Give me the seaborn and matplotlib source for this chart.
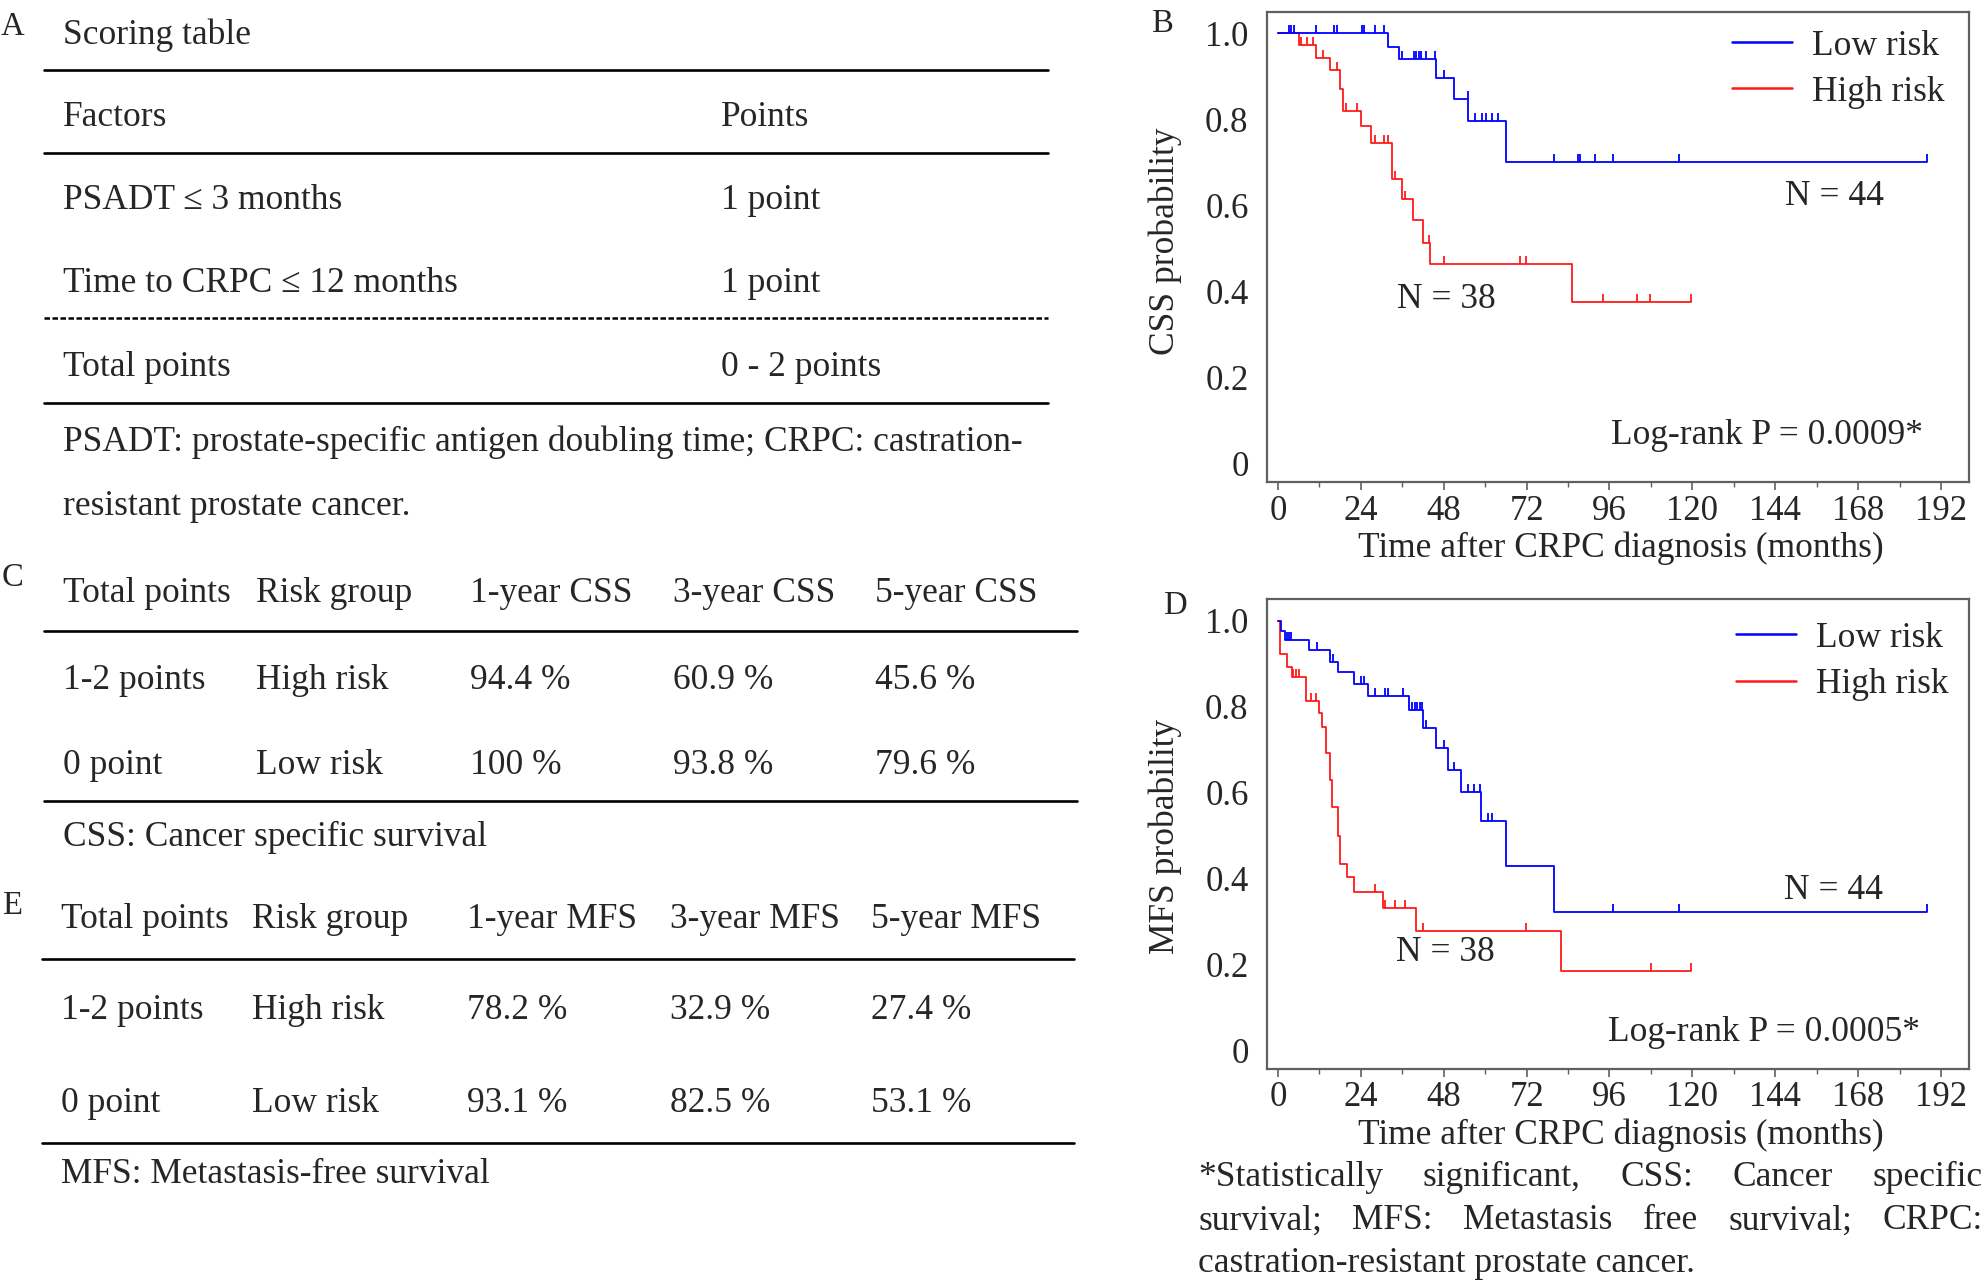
import numpy as np
import pandas as pd
import matplotlib
matplotlib.use("Agg")
import matplotlib.pyplot as plt
from matplotlib.path import Path
from matplotlib.lines import Line2D
import seaborn as sns

W, H = 1986, 1282
FS = 25.5
DY = 3.8  # visual centre offset for text

# ---------------- data ----------------
groups = ["Low risk", "High risk"]
colors = {"Low risk": "#0000ff", "High risk": "#ff1a1a"}

# CSS (panel B)
css_low_event_t = [31.9, 35.1, 45.8, 51.0, 55.0, 66.0]
css_low_surv = [0.969, 0.939, 0.895, 0.847, 0.797, 0.700]
css_low_cens = [3.1, 3.8, 4.7, 11.0, 16.1, 17.1, 24.2, 25.0, 28.0, 30.7, 36.0, 39.3, 40.0,
                40.7, 41.3, 42.9, 45.5, 48.0, 54.9, 57.0, 59.0, 60.3, 62.1, 63.8, 79.9,
                86.8, 87.6, 91.8, 97.0, 116.0, 187.9]
css_low_end = 187.9

css_high_event_t = [6.0, 11.0, 15.0, 18.0, 18.9, 24.1, 27.0, 33.0, 36.0, 39.1, 42.0, 44.0, 85.0]
css_high_surv = [0.973, 0.943, 0.915, 0.870, 0.820, 0.784, 0.745, 0.661, 0.615, 0.566, 0.513,
                 0.465, 0.375]
css_high_cens = [6.6, 8.4, 10.0, 13.0, 17.1, 19.7, 23.0, 28.0, 30.7, 32.0, 33.8, 36.7, 43.7,
                 48.0, 70.2, 71.7, 94.1, 104.0, 107.8, 119.7]
css_high_end = 119.7

# MFS (panel D)
mfs_low_event_t = [1.0, 2.0, 9.0, 15.0, 17.3, 22.1, 26.0, 38.0, 42.0, 45.8, 49.2, 52.9, 58.9,
                   66.0, 80.0]
mfs_low_surv = [0.977, 0.955, 0.931, 0.905, 0.880, 0.853, 0.825, 0.793, 0.750, 0.703, 0.653,
                0.601, 0.534, 0.429, 0.322]
mfs_low_cens = [2.5, 3.1, 3.7, 11.4, 15.9, 24.0, 25.0, 28.0, 31.0, 32.0, 36.3, 38.9, 39.6,
                40.3, 41.0, 41.8, 42.9, 48.0, 50.9, 54.9, 56.9, 58.6, 60.9, 61.9, 97.0, 116.0,
                187.9]
mfs_low_end = 187.9

mfs_high_event_t = [0.7, 2.7, 4.0, 8.0, 11.8, 12.8, 14.0, 15.0, 15.7, 17.3, 17.9, 19.9, 21.9,
                    30.3, 39.9, 82.1]
mfs_high_surv = [0.923, 0.893, 0.869, 0.814, 0.785, 0.754, 0.692, 0.630, 0.567, 0.500, 0.434,
                 0.404, 0.368, 0.332, 0.278, 0.186]
mfs_high_cens = [4.4, 5.3, 6.0, 9.5, 11.0, 28.0, 31.0, 33.9, 36.9, 42.0, 71.9, 108.0, 119.7]
mfs_high_end = 119.7

xticks = [0, 24, 48, 72, 96, 120, 144, 168, 192]
xminor = [12, 36, 60, 84, 108, 132, 156, 180]
yticks = [0, 0.2, 0.4, 0.6, 0.8, 1.0]
ytick_labels = ["0", "0.2", "0.4", "0.6", "0.8", "1.0"]

# Tables
tableA_title = "Scoring table"
tableA_header = ["Factors", "Points"]
tableA_rows = [["PSADT \u2264 3 months", "1 point"],
               ["Time to CRPC \u2264 12 months", "1 point"]]
tableA_total = ["Total points", "0 - 2 points"]
tableA_note = ["PSADT: prostate-specific antigen doubling time; CRPC: castration-",
               "resistant prostate cancer."]

tableC_header = ["Total points", "Risk group", "1-year CSS", "3-year CSS", "5-year CSS"]
tableC_rows = [["1-2 points", "High risk", "94.4 %", "60.9 %", "45.6 %"],
               ["0 point", "Low risk", "100 %", "93.8 %", "79.6 %"]]
tableC_note = "CSS: Cancer specific survival"

tableE_header = ["Total points", "Risk group", "1-year MFS", "3-year MFS", "5-year MFS"]
tableE_rows = [["1-2 points", "High risk", "78.2 %", "32.9 %", "27.4 %"],
               ["0 point", "Low risk", "93.1 %", "82.5 %", "53.1 %"]]
tableE_note = "MFS: Metastasis-free survival"

footnote_lines = [["*Statistically", "significant,", "CSS:", "Cancer", "specific"],
                  ["survival;", "MFS:", "Metastasis", "free", "survival;", "CRPC:"]]
footnote_last = "castration-resistant prostate cancer."

# ---------------- style ----------------
sns.set_style("white")
plt.rcParams["font.family"] = ["Liberation Serif", "DejaVu Serif"]
plt.rcParams["font.size"] = FS

fig = plt.figure(figsize=(W / 100, H / 100), dpi=100)


def fx(px):
    return px / W


def fy(py):
    return 1 - py / H


def km_frame(event_t, surv, end_t, group):
    t = [0.0] + list(event_t) + [end_t]
    s = [1.0] + list(surv) + [surv[-1]]
    return pd.DataFrame({"time": t, "surv": s, "group": group})


def cens_frame(cens, event_t, surv, group):
    levels = np.array([1.0] + list(surv))
    idx = np.searchsorted(np.array(event_t), np.array(cens), side="right")
    return pd.DataFrame({"time": cens, "surv": levels[idx], "group": group})


tick_marker = Path([(0, 0), (0, 1)])


def txt(x, y, s, ha="left", **kw):
    return fig.text(fx(x), fy(y + DY), s, ha=ha, va="center", fontsize=FS, **kw)


def km_axes(rect, data, ylabel, ylab_y, legend_anchor, n44, n38, pval):
    ax = fig.add_axes(rect)
    curves = pd.concat([km_frame(*d[:3], g) for d, g in zip(data, groups)], ignore_index=True)
    cens = pd.concat([cens_frame(d[3], d[0], d[1], g) for d, g in zip(data, groups)],
                     ignore_index=True)
    for g in groups[::-1]:
        sns.lineplot(data=curves[curves.group == g], x="time", y="surv", color=colors[g],
                     estimator=None, sort=False, drawstyle="steps-post", lw=1.3, ax=ax,
                     legend=False)
        sns.scatterplot(data=cens[cens.group == g], x="time", y="surv", marker=tick_marker,
                        s=120, color=colors[g], edgecolor=colors[g], linewidth=1.3, ax=ax,
                        legend=False, zorder=3)
    ax.set_xlim(-3.3, 200)
    ax.set_ylim(-0.043, 1.05)
    ax.set_xticks(xticks)
    ax.set_xticks(xminor, minor=True)
    ax.set_yticks(yticks, labels=ytick_labels)
    ax.tick_params(axis="x", which="major", direction="out", length=6, width=1.2,
                   color="#606060", pad=3, labelsize=FS - 0.5, bottom=True)
    ax.tick_params(axis="x", which="minor", direction="out", length=3.5, width=1.0,
                   color="#606060", bottom=True)
    ax.tick_params(axis="y", length=0, pad=13, labelsize=FS - 0.5)
    for sp in ax.spines.values():
        sp.set_visible(True)
        sp.set_color("#606060")
        sp.set_linewidth(1.6)
    ax.set_xlabel("Time after CRPC diagnosis (months)", fontsize=FS)
    ax.xaxis.label.set_va("center")
    ax.xaxis.set_label_coords(0.505, -0.14)
    ax.set_ylabel(ylabel, fontsize=FS)
    ax.yaxis.label.set_va("center")
    ax.yaxis.set_label_coords(-0.1447, ylab_y)
    handles = [Line2D([], [], color=colors[g], lw=1.8) for g in groups]
    ax.legend(handles, groups, loc="upper right", bbox_to_anchor=legend_anchor, frameon=False,
              fontsize=FS, handlelength=1.7, handletextpad=0.55, labelspacing=0.37,
              borderaxespad=0, borderpad=0)
    ax.grid(False)
    txt(n44[0], n44[1], "N = 44", ha="center")
    txt(n38[0], n38[1], "N = 38", ha="center")
    txt(pval[0], pval[1], pval[2], ha="right")
    return ax


axL, axR = 1266.6, 1968.6
axB = km_axes([fx(axL), fy(482.3), (axR - axL) / W, (482.3 - 11.7) / H],
              [(css_low_event_t, css_low_surv, css_low_end, css_low_cens),
               (css_high_event_t, css_high_surv, css_high_end, css_high_cens)],
              "CSS probability", 0.513, (0.965, 0.962),
              (1834, 192.5), (1446, 296), (1923, 432, "Log-rank P = 0.0009*"))
axD = km_axes([fx(axL), fy(1069), (axR - axL) / W, (1069 - 599.3) / H],
              [(mfs_low_event_t, mfs_low_surv, mfs_low_end, mfs_low_cens),
               (mfs_high_event_t, mfs_high_surv, mfs_high_end, mfs_high_cens)],
              "MFS probability", 0.496, (0.971, 0.952),
              (1833, 886.6), (1445, 948.7), (1920, 1028.5, "Log-rank P = 0.0005*"))

# panel letters
for lab, (px, py) in {"A": (12.7, 22.8), "B": (1162.7, 20.3), "C": (12.7, 573.8),
                      "D": (1175.4, 601.6), "E": (12.7, 901.8)}.items():
    fig.text(fx(px), fy(py + DY), lab, ha="center", va="center", fontsize=FS - 2)


def hline(y, x0, x1, ls="-", lw=1.9):
    fig.add_artist(Line2D([fx(x0), fx(x1)], [fy(y), fy(y)], color="black", lw=lw, ls=ls,
                          transform=fig.transFigure))


# ---- Table A
txt(63.3, 31.7, tableA_title)
hline(69.7, 44.3, 1047.5)
txt(63.3, 114, tableA_header[0])
txt(720.7, 114, tableA_header[1])
hline(153.3, 44.3, 1047.5)
for (a, b), y in zip(tableA_rows, [196.3, 280]):
    txt(63.3, y, a)
    txt(720.7, y, b)
hline(318, 44.3, 1047.5, ls=(0, (2.2, 1.0)), lw=1.8)
txt(63.3, 363.5, tableA_total[0])
txt(720.7, 363.5, tableA_total[1])
hline(402.8, 44.3, 1047.5)
txt(63.3, 438.2, tableA_note[0])
txt(63.3, 502.8, tableA_note[1])

# ---- Table C
colsC = [63.3, 255.9, 469.9, 672.6, 875.2]
for s, x in zip(tableC_header, colsC):
    txt(x, 590.2, s)
hline(630.8, 44.3, 1076.6)
for row, y in zip(tableC_rows, [676.4, 761.2]):
    for s, x in zip(row, colsC):
        txt(x, y, s)
hline(800.5, 44.3, 1076.6)
txt(63.3, 833.4, tableC_note)

# ---- Table E
colsE = [60.8, 252.0, 467.4, 670.0, 871.4]
for s, x in zip(tableE_header, colsE):
    txt(x, 915.8, s)
hline(958.8, 41.8, 1074.0)
for row, y in zip(tableE_rows, [1007, 1099.4]):
    for s, x in zip(row, colsE):
        txt(x, y, s)
hline(1142.5, 41.8, 1074.0)
txt(60.8, 1170.3, tableE_note)

# ---- justified footnote
renderer = fig.canvas.get_renderer()
fn_left, fn_right = 1198, 1983
for words, y in zip(footnote_lines, [1174, 1217]):
    objs = [txt(0, y, w) for w in words]
    widths = [o.get_window_extent(renderer).width for o in objs]
    gap = (fn_right - fn_left - sum(widths)) / (len(words) - 1)
    x = fn_left
    for o, wd in zip(objs, widths):
        o.set_x(fx(x))
        x += wd + gap
txt(fn_left, 1260, footnote_last)

fig.savefig("out.png", dpi=100)
